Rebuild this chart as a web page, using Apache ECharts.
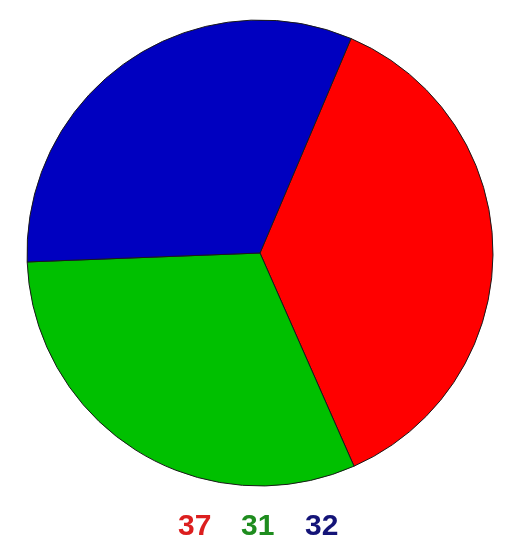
<!DOCTYPE html>
<html>
<head>
<meta charset="utf-8">
<script src="https://cdn.jsdelivr.net/npm/echarts@6/dist/echarts.min.js"></script>
<style>
  html, body { margin: 0; padding: 0; background: #ffffff; }
  #chart { width: 518px; height: 556px; }
</style>
</head>
<body>
<div id="chart"></div>
<script>
const names = ['A', 'B', 'C'];
const values = [37, 31, 32];
const sliceColors = ['#ff0000', '#00c000', '#0000c0'];
const labelColors = ['#dc1e1e', '#1e8c1e', '#141478'];

const chart = echarts.init(document.getElementById('chart'));

const labelX = [195, 258, 322];

chart.setOption({
  backgroundColor: '#ffffff',
  animation: false,
  graphic: values.map((v, i) => ({
    type: 'text',
    left: labelX[i] - 17,
    top: 512,
    style: {
      text: String(v),
      fill: labelColors[i],
      font: 'bold 30px "Liberation Sans", Arial, sans-serif'
    }
  })),
  series: [{
    type: 'pie',
    center: [260, 253],
    radius: [0, 233],
    startAngle: 67,
    clockwise: true,
    label: { show: false },
    labelLine: { show: false },
    emphasis: { disabled: true },
    itemStyle: { borderColor: '#1a1a1a', borderWidth: 1 },
    data: values.map((v, i) => ({
      name: names[i],
      value: v,
      itemStyle: { color: sliceColors[i] }
    }))
  }]
});
</script>
</body>
</html>
